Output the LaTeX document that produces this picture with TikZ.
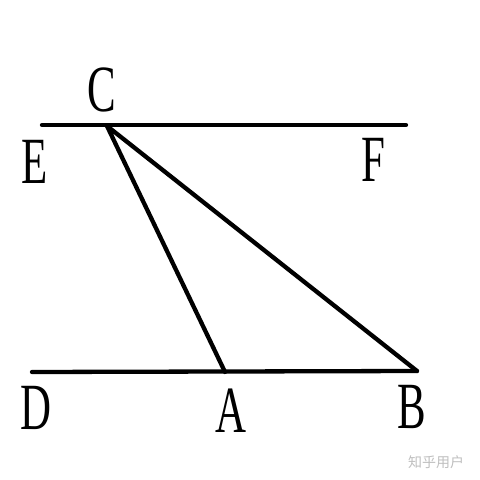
\documentclass[tikz,border=0pt]{standalone}
\usepackage{fontspec}
\usepackage{graphicx}
\newfontfamily\lserif{Liberation Serif}
\newfontfamily\cjk{Noto Sans CJK SC}
\begin{document}
\begin{tikzpicture}[x=1pt,y=-1pt,
  seg/.style={line width=4.3pt,line cap=round,line join=round},
  lbl/.style={inner sep=0pt,font=\lserif\fontsize{66}{66}\selectfont}]
\useasboundingbox (0,0) rectangle (480,480);
\fill[white] (0,0) rectangle (480,480);
\coordinate (E0) at (42,125);
\coordinate (F0) at (406,125);
\coordinate (C) at (107,126);
\coordinate (D0) at (32,372);
\coordinate (A) at (225,372);
\coordinate (B) at (417,371);
\draw[seg] (E0) -- (F0);
\draw[seg] (D0) -- (B);
\draw[seg] (A) -- (C) -- (B);
\node[lbl] (lC) at (102,90) {\scalebox{0.65}[1]{C}};
\node[lbl] (lE) at (35,162) {\scalebox{0.65}[1]{E}};
\node[lbl] (lF) at (373,160) {\scalebox{0.65}[1]{F}};
\node[lbl] (lD) at (36,408) {\scalebox{0.65}[1]{D}};
\node[lbl] (lA) at (231,411) {\scalebox{0.65}[1]{A}};
\node[lbl] (lB) at (412,407) {\scalebox{0.65}[1]{B}};
\node[inner sep=0pt,text=black!25,font=\cjk\fontsize{14}{14}\selectfont] (wm) at (436,462) {知乎用户};
\end{tikzpicture}
\end{document}
